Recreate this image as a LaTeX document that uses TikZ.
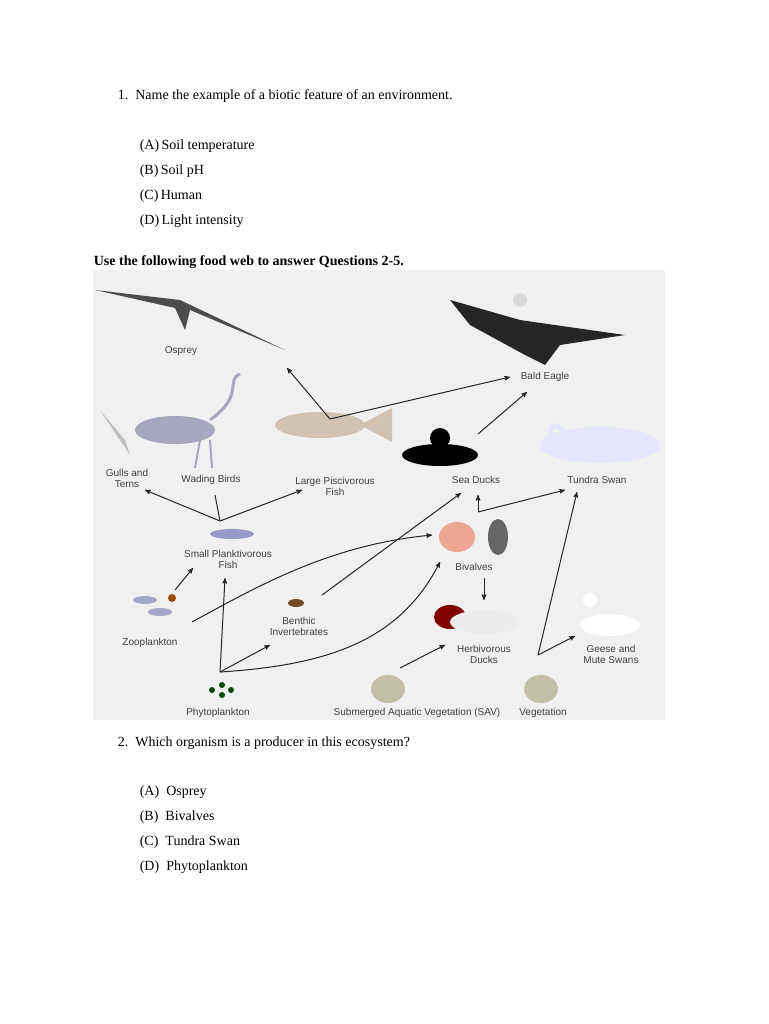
\documentclass[tikz,border=0pt]{standalone}
\usepackage{fontspec}
\setmainfont{Liberation Serif}
\newfontfamily\labfont{Liberation Sans}
\usetikzlibrary{arrows}

\begin{document}
\begin{tikzpicture}[x=1pt, y=-1pt, >=stealth', line width=1pt,
	page/.style={anchor=west, font=\fontsize{14}{16}\selectfont},
	lab/.style={font=\labfont\fontsize{10}{11}\selectfont, text=black!75, align=center, inner sep=1pt},
	feed/.style={->, black!85}]
	\useasboundingbox (0,0) rectangle (768,1024);
	\fill[white] (0,0) rectangle (768,1024);

	% questions
	\node[page] (q1)  at (114,96)  {1.\enspace Name the example of a biotic feature of an environment.};
	\node[page] (q1a) at (136,146) {(A)\,Soil temperature};
	\node[page] (q1b) at (136,171) {(B)\,Soil pH};
	\node[page] (q1c) at (136,196) {(C)\,Human};
	\node[page] (q1d) at (136,221) {(D)\,Light intensity};
	\node[page, font=\bfseries\fontsize{14}{16}\selectfont] (use) at (90,262) {Use the following food web to answer Questions 2-5.};

	% food web panel
	\fill[black!6] (93,270) rectangle (665,720);

	% rough pictures
	\fill[black!70] (95,290) -- (180,300) -- (285,350) -- (190,310) -- (185,330) -- (175,308) -- cycle;
	\fill[black!85] (450,300) -- (520,320) -- (625,335) -- (560,345) -- (545,365) -- (525,355) -- (470,325) -- cycle;
	\fill[black!15] (520,300) circle (7);
	\fill[blue!30!black!35] (175,430) ellipse (40 and 14);
	\draw[blue!30!black!35, line width=3pt] (210,420) .. controls (245,395) and (225,380) .. (240,374);
	\draw[blue!30!black!35, line width=2pt] (200,440) -- (195,468) (210,440) -- (212,468);
	\fill[black!25] (100,410) -- (130,455) -- (125,440) -- cycle;
	\fill[orange!40!black!30] (320,425) ellipse (45 and 13);
	\fill[orange!40!black!30] (360,425) -- (392,408) -- (392,442) -- cycle;
	\fill[black] (440,455) ellipse (38 and 11);
	\fill[black] (440,438) circle (10);
	\fill[blue!10!white] (600,445) ellipse (60 and 18);
	\draw[blue!10!white, line width=5pt] (552,440) .. controls (545,420) and (565,420) .. (568,445);
	\fill[black!55!blue!40] (232,534) ellipse (22 and 5);
	\fill[red!40!brown!50] (457,537) ellipse (18 and 15);
	\fill[black!60] (498,537) ellipse (10 and 18);
	\fill[red!50!black] (450,617) ellipse (16 and 12);
	\fill[black!8!white] (485,622) ellipse (35 and 12);
	\fill[white] (610,625) ellipse (30 and 11);
	\fill[white] (590,600) circle (7);
	\fill[blue!40!black!35] (145,600) ellipse (12 and 4) (160,612) ellipse (12 and 4);
	\fill[orange!60!black] (172,598) circle (4);
	\fill[brown!60!black] (296,603) ellipse (8 and 4);
	\fill[green!30!black] (212,690) circle (3) (222,685) circle (3) (231,690) circle (3) (222,695) circle (3);
	\fill[olive!40!black!35] (388,689) ellipse (17 and 14) (541,689) ellipse (17 and 14);

	% labels
	\node[lab] (osprey)  at (181,351) {Osprey};
	\node[lab] (eagle)   at (545,377) {Bald Eagle};
	\node[lab] (gulls)   at (127,478) {Gulls and\\Terns};
	\node[lab] (wading)  at (211,480) {Wading Birds};
	\node[lab] (bigfish) at (335,486) {Large Piscivorous\\Fish};
	\node[lab] (seaduck) at (476,480) {Sea Ducks};
	\node[lab] (tundra)  at (597,480) {Tundra Swan};
	\node[lab] (smfish)  at (228,559) {Small Planktivorous\\Fish};
	\node[lab] (bival)   at (474,567) {Bivalves};
	\node[lab] (zoo)     at (150,643) {Zooplankton};
	\node[lab] (benthic) at (299,626) {Benthic\\Invertebrates};
	\node[lab] (herbduck) at (484,654) {Herbivorous\\Ducks};
	\node[lab] (geese)   at (611,654) {Geese and\\Mute Swans};
	\node[lab] (phyto)   at (218,713) {Phytoplankton};
	\node[lab] (sav)     at (417,713) {Submerged Aquatic Vegetation (SAV)};
	\node[lab] (veg)     at (543,713) {Vegetation};

	% junction points
	\coordinate (jsm)  at (220,521);
	\coordinate (jbig) at (330,419);
	\coordinate (jbiv) at (478,512);
	\coordinate (jph)  at (220,672);
	\coordinate (jveg) at (538,655);

	% feeding arrows
	\draw[black!85] (215,495) -- (jsm);
	\draw[feed] (jsm) -- (145,490);
	\draw[feed] (jsm) -- (302,490);
	\draw[feed] (175,590) -- (193,568);
	\draw[feed] (jph) -- (225,578);
	\draw[feed] (jph) -- (270,645);
	\draw[feed] (jph) .. controls (330,665) and (400,640) .. (440,562);
	\draw[feed] (192,622) .. controls (260,585) and (330,545) .. (432,535);
	\draw[feed] (322,595) -- (461,493);
	\draw[feed] (400,668) -- (445,645);
	\draw[feed] (jveg) -- (577,492);
	\draw[feed] (jveg) -- (575,636);
	\draw[feed] (484,578) -- (484,600);
	\draw[feed] (jbiv) -- (478,495);
	\draw[feed] (jbiv) -- (565,490);
	\draw[feed] (jbig) -- (287,368);
	\draw[feed] (jbig) -- (510,377);
	\draw[feed] (478,434) -- (527,392);

	% question 2
	\node[page] (q2)  at (114,743) {2.\enspace Which organism is a producer in this ecosystem?};
	\node[page] (q2a) at (136,792) {(A)\enspace Osprey};
	\node[page] (q2b) at (136,817) {(B)\enspace Bivalves};
	\node[page] (q2c) at (136,842) {(C)\enspace Tundra Swan};
	\node[page] (q2d) at (136,867) {(D)\enspace Phytoplankton};
\end{tikzpicture}
\end{document}
